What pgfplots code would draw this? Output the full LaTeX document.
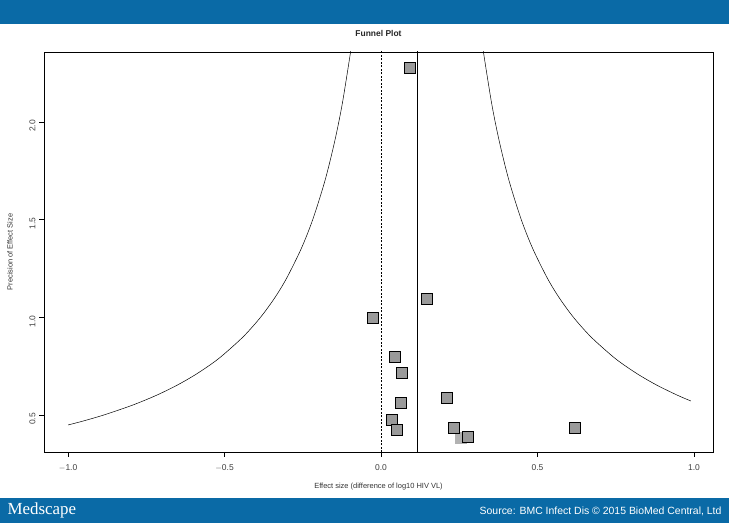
\documentclass[border=0pt]{standalone}
\usepackage{pgfplots}
\pgfplotsset{compat=1.18}
\usepackage{fontspec}
\setmainfont{Liberation Sans}
\newfontfamily\logofont{Liberation Serif}
\definecolor{banner}{HTML}{0A6AA6}
\definecolor{ptfill}{HTML}{9A9A9A}
\begin{document}
\begin{tikzpicture}[x=1bp,y=1bp]
\useasboundingbox (0,0) rectangle (729,523);
\fill[white] (0,0) rectangle (729,523);
\fill[banner] (0,499) rectangle (729,523);
\fill[banner] (0,0) rectangle (729,25);
\node[anchor=west,text=white,font=\logofont\fontsize{17}{17}\selectfont] at (4,13) {Medscape};
\node[anchor=east,text=white,font=\fontsize{10.5}{12}\selectfont] at (725,12) {Source: BMC Infect Dis \textcopyright\ 2015 BioMed Central, Ltd};
\node[font=\bfseries\fontsize{8.5}{9}\selectfont, text=black!85] at (378.5,490) {Funnel Plot};
\begin{axis}[
  at={(44bp,71bp)}, anchor=south west,
  scale only axis, width=669bp, height=400bp,
  xmin=-1.077, xmax=1.061, ymin=0.31, ymax=2.359,
  axis line style={black, line width=0.6pt},
  xtick={-1,-0.5,0,0.5,1},
  xticklabels={$-$1.0,$-$0.5,0.0,0.5,1.0},
  ytick={0.5,1,1.5,2},
  yticklabels={0.5,1.0,1.5,2.0},
  tick align=outside, tick pos=left,
  major tick length=5bp,
  tick style={black, line width=0.5pt},
  tick label style={font=\fontsize{8.5}{9}\selectfont, text=black!75},
  /pgf/number format/assume math mode=true,
  xticklabel style={yshift=-4bp},
  yticklabel style={rotate=90, anchor=south, xshift=-4bp},
  clip mode=individual,
  xlabel={Effect size (difference of log10 HIV VL)},
  xlabel style={font=\fontsize{7.5}{8}\selectfont, text=black!80, at={(axis description cs:0.5,-0.087)}, anchor=center},
  ylabel={Precision of Effect Size},
  ylabel style={font=\fontsize{7.5}{8}\selectfont, text=black!80, at={(axis description cs:-0.0508,0.5)}, anchor=center, rotate=0},
]
% funnel (left)
\addplot[black, line width=0.5pt, smooth] coordinates {
(-1.000,0.4484) (-0.9488,0.47) (-0.885,0.5) (-0.7941,0.55) (-0.7183,0.6) (-0.6542,0.65)
(-0.5993,0.7) (-0.5517,0.75) (-0.510,0.8) (-0.4406,0.9) (-0.385,1.0) (-0.3395,1.1)
(-0.3017,1.2) (-0.2554,1.35) (-0.2183,1.5) (-0.1791,1.7) (-0.1482,1.9) (-0.1231,2.1) (-0.0933,2.4)};
% funnel (right)
\addplot[black, line width=0.5pt, smooth] coordinates {
(0.99,0.5714) (0.9483,0.6) (0.8842,0.65) (0.8293,0.7) (0.7817,0.75) (0.740,0.8)
(0.6706,0.9) (0.615,1.0) (0.5695,1.1) (0.5317,1.2) (0.4854,1.35) (0.4483,1.5)
(0.4091,1.7) (0.3782,1.9) (0.3531,2.1) (0.3233,2.4)};
% pooled estimate
\addplot[black, line width=0.6pt] coordinates {(0.115,0.2) (0.115,2.5)};
% zero line
\addplot[black, line width=0.5pt, dash pattern=on 2bp off 1.5bp] coordinates {(0,0.2) (0,2.5)};
% faint study
\addplot[only marks, mark=square*, mark size=5.5bp, mark options={fill=black!30, draw=black!30}] coordinates {(0.256,0.382)};
% studies
\addplot[only marks, mark=square*, mark size=5.5bp, mark options={fill=ptfill, draw=black, line width=0.7pt}] coordinates {
(0.093,2.277) (0.147,1.097) (-0.026,0.995) (0.045,0.795) (0.067,0.713) (0.064,0.562)
(0.211,0.587) (0.035,0.474) (0.051,0.423) (0.233,0.433) (0.278,0.387) (0.620,0.433)};
\end{axis}
\end{tikzpicture}
\end{document}
